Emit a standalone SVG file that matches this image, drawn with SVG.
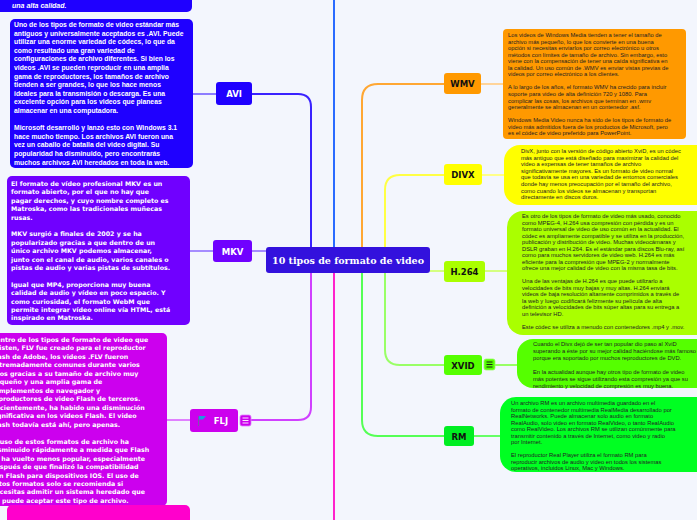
<svg xmlns="http://www.w3.org/2000/svg" width="697" height="520" viewBox="0 0 697 520">
<style>
.bg{fill:#f3f6fd}
.c{fill:none;stroke-width:2}
.lbl{font-family:"DejaVu Sans",sans-serif;font-weight:bold;font-size:8.5px;text-anchor:middle}
.tw{fill:#fff}.tb{fill:#111}
.ta{font-family:"Liberation Sans",Arial,sans-serif;font-weight:bold;font-size:6.8px;fill:#fff}
.tm{font-family:"DejaVu Sans",sans-serif;font-weight:bold;font-size:6.3px;fill:#fff}
.tr{font-family:"Liberation Sans",Arial,sans-serif;font-size:5.8px;fill:#222}
.nb{stroke-width:1}
</style>
<rect class="bg" width="697" height="520"/>
<g id="connectors">
<path class="c" stroke="#2a6bff" d="M334,0V247"/>
<path class="c" stroke="#ff22cc" d="M334,273V520"/>
<path class="c" stroke="#3a22ff" d="M252,94H298Q311,94 311,107V247"/>
<path class="c" stroke="#a58cff" d="M252,251H266"/>
<path class="c" stroke="#d040ff" d="M251,420H298Q311,420 311,407V273"/>
<path class="c" stroke="#ffa733" d="M362,247V100Q362,84 378,84H444"/>
<path class="c" stroke="#ffff44" d="M385,247V190Q385,175 400,175H444"/>
<path class="c" stroke="#d4ff80" d="M430,271H444"/>
<path class="c" stroke="#99ff66" d="M385,273V350Q385,365 400,365H444"/>
<path class="c" stroke="#55ff55" d="M362,273V420Q362,436 378,436H444"/>
<path class="c" stroke="#8d7dff" d="M193,94H216"/>
<path class="c" stroke="#a58cff" d="M190,251H213"/>
<path class="c" stroke="#e080ff" d="M167,420H190"/>
<path class="c" stroke="#ffd49a" d="M481,84H503"/>
<path class="c" stroke="#ffff88" d="M482,175H504"/>
<path class="c" stroke="#d4ff80" d="M485,271H507"/>
<path class="c" stroke="#99ff66" d="M495,365H517"/>
<path class="c" stroke="#66ff66" d="M474,436H500"/>
</g>
<g id="top-note">
<rect x="-10" y="-12" width="202" height="24" rx="5" fill="#1f00ff"/>
<text x="12" y="8" font-family="Liberation Sans,Arial,sans-serif" font-weight="bold" font-style="italic" font-size="7px" fill="#fff">una alta calidad.</text>
</g>
<g id="center">
<rect x="266" y="247" width="164" height="26" rx="3" fill="#3311dd"/>
<text x="348" y="264" text-anchor="middle" font-family="'DejaVu Serif',serif" font-weight="bold" font-size="9.5px" fill="#fff">10 tipos de formato de video</text>
</g>
<g id="avi">
<rect x="216" y="82" width="36" height="23" rx="3" fill="#1f00ff"/>
<text class="lbl tw" x="234" y="97">AVI</text>
<rect x="10" y="19" width="183" height="149" rx="5" fill="#1f00ff"/>
<text class="ta" x="14" y="27"><tspan x="14" dy="0">Uno de los tipos de formato de video estándar más</tspan><tspan x="14" dy="8.6">antiguos y universalmente aceptados es .AVI. Puede</tspan><tspan x="14" dy="8.6">utilizar una enorme variedad de códecs, lo que da</tspan><tspan x="14" dy="8.6">como resultado una gran variedad de</tspan><tspan x="14" dy="8.6">configuraciones de archivo diferentes. Si bien los</tspan><tspan x="14" dy="8.6">videos .AVI se pueden reproducir en una amplia</tspan><tspan x="14" dy="8.6">gama de reproductores, los tamaños de archivo</tspan><tspan x="14" dy="8.6">tienden a ser grandes, lo que los hace menos</tspan><tspan x="14" dy="8.6">ideales para la transmisión o descarga. Es una</tspan><tspan x="14" dy="8.6">excelente opción para los videos que planeas</tspan><tspan x="14" dy="8.6">almacenar en una computadora.</tspan><tspan x="14" dy="17.2">Microsoft desarrolló y lanzó esto con Windows 3.1</tspan><tspan x="14" dy="8.6">hace mucho tiempo. Los archivos AVI fueron una</tspan><tspan x="14" dy="8.6">vez un caballo de batalla del video digital. Su</tspan><tspan x="14" dy="8.6">popularidad ha disminuido, pero encontrarás</tspan><tspan x="14" dy="8.6">muchos archivos AVI heredados en toda la web.</tspan></text>
</g>
<g id="mkv">
<rect x="213" y="240" width="39" height="22" rx="3" fill="#7000ff"/>
<text class="lbl tw" x="232.5" y="254.5">MKV</text>
<rect x="7" y="176" width="183" height="149" rx="5" fill="#7000ff"/>
<text class="tm" x="11" y="186"><tspan x="11" dy="0">El formato de vídeo profesional MKV es un</tspan><tspan x="11" dy="8.4">formato abierto, por el que no hay que</tspan><tspan x="11" dy="8.4">pagar derechos, y cuyo nombre completo es</tspan><tspan x="11" dy="8.4">Matroska, como las tradicionales muñecas</tspan><tspan x="11" dy="8.4">rusas.</tspan><tspan x="11" dy="16.8">MKV surgió a finales de 2002 y se ha</tspan><tspan x="11" dy="8.4">popularizado gracias a que dentro de un</tspan><tspan x="11" dy="8.4">único archivo MKV podemos almacenar,</tspan><tspan x="11" dy="8.4">junto con el canal de audio, varios canales o</tspan><tspan x="11" dy="8.4">pistas de audio y varias pistas de subtítulos.</tspan><tspan x="11" dy="16.8">Igual que MP4, proporciona muy buena</tspan><tspan x="11" dy="8.4">calidad de audio y vídeo en poco espacio. Y</tspan><tspan x="11" dy="8.4">como curiosidad, el formato WebM que</tspan><tspan x="11" dy="8.4">permite integrar vídeo online vía HTML, está</tspan><tspan x="11" dy="8.4">inspirado en Matroska.</tspan></text>
</g>
<g id="flj">
<rect x="190" y="409" width="48" height="23" rx="3" fill="#cc00ee"/>
<path d="M198.5,416V426" stroke="#7a55aa" stroke-width="1"/>
<path d="M199,416H206L203,419.5H199Z" fill="#1a9be0"/>
<text class="lbl tw" x="221" y="424">FLJ</text>
<rect x="240" y="415" width="11" height="11" rx="2" fill="#cc00ee" stroke="#e080ff" stroke-width="0.8"/>
<path d="M242.5,418H248.5M242.5,420.5H248.5M242.5,423H248.5" stroke="#fff" stroke-width="0.9"/>
<rect x="-10" y="333" width="177" height="173" rx="5" fill="#cc00ee"/>
<text class="tm" x="-9" y="342"><tspan x="-9" dy="0">Dentro de los tipos de formato de video que</tspan><tspan x="-9" dy="8.47">existen, FLV fue creado para el reproductor</tspan><tspan x="-9" dy="8.47">Flash de Adobe, los videos .FLV fueron</tspan><tspan x="-9" dy="8.47">extremadamente comunes durante varios</tspan><tspan x="-9" dy="8.47">años gracias a su tamaño de archivo muy</tspan><tspan x="-9" dy="8.47">pequeño y una amplia gama de</tspan><tspan x="-9" dy="8.47">complementos de navegador y</tspan><tspan x="-9" dy="8.47">reproductores de video Flash de terceros.</tspan><tspan x="-9" dy="8.47">Recientemente, ha habido una disminución</tspan><tspan x="-9" dy="8.47">significativa en los videos Flash. El video</tspan><tspan x="-9" dy="8.47">Flash todavía está ahí, pero apenas.</tspan><tspan x="-9" dy="16.94">El uso de estos formatos de archivo ha</tspan><tspan x="-9" dy="8.47">disminuido rápidamente a medida que Flash</tspan><tspan x="-9" dy="8.47">se ha vuelto menos popular, especialmente</tspan><tspan x="-9" dy="8.47">después de que finalizó la compatibilidad</tspan><tspan x="-9" dy="8.47">con Flash para dispositivos IOS. El uso de</tspan><tspan x="-9" dy="8.47">estos formatos solo se recomienda si</tspan><tspan x="-9" dy="8.47">necesitas admitir un sistema heredado que</tspan><tspan x="-9" dy="8.47">no puede aceptar este tipo de archivo.</tspan></text>
</g>
<g id="bottom-note">
<rect x="7" y="505" width="183" height="30" rx="5" fill="#ff00cc"/>
</g>
<g id="wmv">
<rect x="444" y="73" width="37" height="21" rx="3" fill="#ff9900"/>
<text class="lbl tb" x="462.5" y="87">WMV</text>
<rect x="503" y="29" width="183" height="110" rx="4" fill="#ff9900"/>
<text class="tr" x="508" y="37"><tspan x="508" dy="0">Los videos de Windows Media tienden a tener el tamaño de</tspan><tspan x="508" dy="6.55">archivo más pequeño, lo que los convierte en una buena</tspan><tspan x="508" dy="6.55">opción si necesitas enviarlos por correo electrónico u otros</tspan><tspan x="508" dy="6.55">métodos con límites de tamaño de archivo. Sin embargo, esto</tspan><tspan x="508" dy="6.55">viene con la compensación de tener una caída significativa en</tspan><tspan x="508" dy="6.55">la calidad. Un uso común de .WMV es enviar vistas previas de</tspan><tspan x="508" dy="6.55">videos por correo electrónico a los clientes.</tspan><tspan x="508" dy="13.1">A lo largo de los años, el formato WMV ha crecido para incluir</tspan><tspan x="508" dy="6.55">soporte para video de alta definición 720 y 1080. Para</tspan><tspan x="508" dy="6.55">complicar las cosas, los archivos que terminan en .wmv</tspan><tspan x="508" dy="6.55">generalmente se almacenan en un contenedor .asf.</tspan><tspan x="508" dy="13.1">Windows Media Video nunca ha sido de los tipos de formato de</tspan><tspan x="508" dy="6.55">video más admitidos fuera de los productos de Microsoft, pero</tspan><tspan x="508" dy="6.55">es el códec de video preferido para PowerPoint.</tspan></text>
</g>
<g id="divx">
<rect x="444" y="164" width="38" height="21" rx="3" fill="#ffff00"/>
<text class="lbl tb" x="463" y="178">DIVX</text>
<rect x="504" y="145" width="210" height="60" rx="16" fill="#ffff00"/>
<text class="tr" x="521" y="153"><tspan x="521" dy="0">DivX, junto con la versión de código abierto XviD, es un códec</tspan><tspan x="521" dy="6.6">más antiguo que está diseñado para maximizar la calidad del</tspan><tspan x="521" dy="6.6">video a expensas de tener tamaños de archivo</tspan><tspan x="521" dy="6.6">significativamente mayores. Es un formato de video normal</tspan><tspan x="521" dy="6.6">que todavía se usa en una variedad de entornos comerciales</tspan><tspan x="521" dy="6.6">donde hay menos preocupación por el tamaño del archivo,</tspan><tspan x="521" dy="6.6">como cuando los videos se almacenan y transportan</tspan><tspan x="521" dy="6.6">directamente en discos duros.</tspan></text>
</g>
<g id="h264">
<rect x="444" y="261" width="41" height="21" rx="3" fill="#aaff00"/>
<text class="lbl tb" x="464.5" y="275">H.264</text>
<rect x="507" y="211" width="210" height="124" rx="16" fill="#aaff00"/>
<text class="tr" x="522" y="218"><tspan x="522" dy="0">Es otro de los tipos de formato de video más usado, conocido</tspan><tspan x="522" dy="6.5">como MPEG-4, H.264 usa compresión con pérdida y es un</tspan><tspan x="522" dy="6.5">formato universal de video de uso común en la actualidad. El</tspan><tspan x="522" dy="6.5">códec es ampliamente compatible y se utiliza en la producción,</tspan><tspan x="522" dy="6.5">publicación y distribución de video. Muchas videocámaras y</tspan><tspan x="522" dy="6.5">DSLR graban en H.264. Es el estándar para discos Blu-ray, así</tspan><tspan x="522" dy="6.5">como para muchos servidores de video web. H.264 es más</tspan><tspan x="522" dy="6.5">eficiente para la compresión que MPEG-2 y normalmente</tspan><tspan x="522" dy="6.5">ofrece una mejor calidad de video con la misma tasa de bits.</tspan><tspan x="522" dy="13">Una de las ventajas de H.264 es que puede utilizarlo a</tspan><tspan x="522" dy="6.5">velocidades de bits muy bajas y muy altas. H.264 enviará</tspan><tspan x="522" dy="6.5">videos de baja resolución altamente comprimidos a través de</tspan><tspan x="522" dy="6.5">la web y luego codificará felizmente su película de alta</tspan><tspan x="522" dy="6.5">definición a velocidades de bits súper altas para su entrega a</tspan><tspan x="522" dy="6.5">un televisor HD.</tspan><tspan x="522" dy="13">Este códec se utiliza a menudo con contenedores .mp4 y .mov.</tspan></text>
</g>
<g id="xvid">
<rect x="444" y="355" width="38" height="20" rx="3" fill="#55ff00"/>
<text class="lbl tb" x="463" y="368.5">XVID</text>
<rect x="484" y="359" width="11" height="11" rx="2" fill="#55ff00" stroke="#99ff66" stroke-width="0.8"/>
<path d="M486.5,362H492.5M486.5,364.5H492.5M486.5,367H492.5" stroke="#111" stroke-width="0.9"/>
<rect x="517" y="339" width="200" height="49" rx="16" fill="#55ff00"/>
<text class="tr" x="533" y="346"><tspan x="533" dy="0">Cuando el Divx dejó de ser tan popular dio paso al XviD</tspan><tspan x="533" dy="7">superando a éste por su mejor calidad haciéndose más famoso</tspan><tspan x="533" dy="7">porque era soportado por muchos reproductores de DVD.</tspan><tspan x="533" dy="14">En la actualidad aunque hay otros tipo de formato de video</tspan><tspan x="533" dy="7">más potentes se sigue utilizando esta compresión ya que su</tspan><tspan x="533" dy="7">rendimiento y velocidad de compresión es muy buena.</tspan></text>
</g>
<g id="rm">
<rect x="444" y="426" width="30" height="20" rx="3" fill="#00ee22"/>
<text class="lbl tb" x="459" y="439.5">RM</text>
<rect x="500" y="397" width="220" height="75" rx="16" fill="#00ff22"/>
<text class="tr" x="511" y="405"><tspan x="511" dy="0">Un archivo RM es un archivo multimedia guardado en el</tspan><tspan x="511" dy="6.5">formato de contenedor multimedia RealMedia desarrollado por</tspan><tspan x="511" dy="6.5">RealNetworks. Puede almacenar solo audio en formato</tspan><tspan x="511" dy="6.5">RealAudio, solo video en formato RealVideo, o tanto RealAudio</tspan><tspan x="511" dy="6.5">como RealVideo. Los archivos RM se utilizan comúnmente para</tspan><tspan x="511" dy="6.5">transmitir contenido a través de Internet, como video y radio</tspan><tspan x="511" dy="6.5">por Internet.</tspan><tspan x="511" dy="13">El reproductor Real Player utiliza el formato RM para</tspan><tspan x="511" dy="6.5">reproducir archivos de audio y video en todos los sistemas</tspan><tspan x="511" dy="6.5">operativos, incluidos Linux, Mac y Windows.</tspan></text>
</g>
</svg>
